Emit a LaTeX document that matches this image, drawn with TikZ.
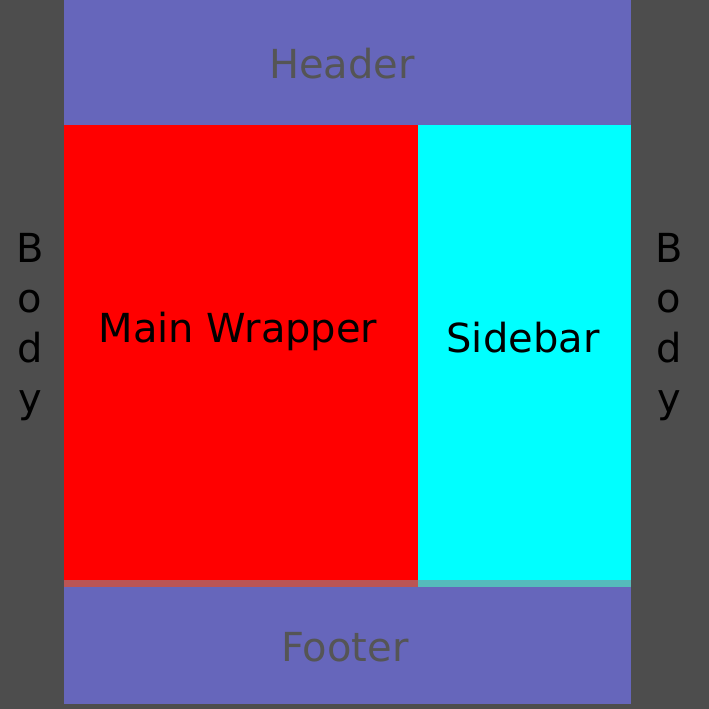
\documentclass[tikz,border=0pt]{standalone}
\usepackage{fontspec}
\setmainfont{DejaVu Sans}
\definecolor{bodygray}{HTML}{4D4D4D}
\definecolor{bandblue}{HTML}{6666BB}
\definecolor{labelgray}{HTML}{555555}
\definecolor{mainedge}{HTML}{BB5555}
\definecolor{sideedge}{HTML}{55BBBB}
\definecolor{sidecyan}{HTML}{00FFFF}
\tikzset{
  region/.style={draw=none,inner sep=0pt},
  lbl/.style={font=\fontsize{40}{50}\selectfont}
}
\begin{document}
\begin{tikzpicture}[x=1pt,y=-1pt]
	\fill[bodygray] (0,0) rectangle (709,709);
	\useasboundingbox (0,0) rectangle (709,709);
	
	\fill[bandblue] (64,0) rectangle (631,125);
	\fill[red] (64,125) rectangle (418,580);
	\fill[sidecyan] (418,125) rectangle (631,580);
	\fill[mainedge] (64,580) rectangle (418,587);
	\fill[sideedge] (418,580) rectangle (631,587);
	\fill[bandblue] (64,587) rectangle (631,704);
	
	\node[lbl,text=labelgray] (header) at (342,64) {Header};
	\node[lbl] (main) at (238,331) {Main Wrapper};
	\node[lbl] (sidebar) at (523,338) {Sidebar};
	\node[lbl,text=labelgray] (footer) at (345,647) {Footer};
	\node[lbl,align=center] (bodyl) at (30,327) {B\\o\\d\\y};
	\node[lbl,align=center] (bodyr) at (669,327) {B\\o\\d\\y};
\end{tikzpicture}
\end{document}
